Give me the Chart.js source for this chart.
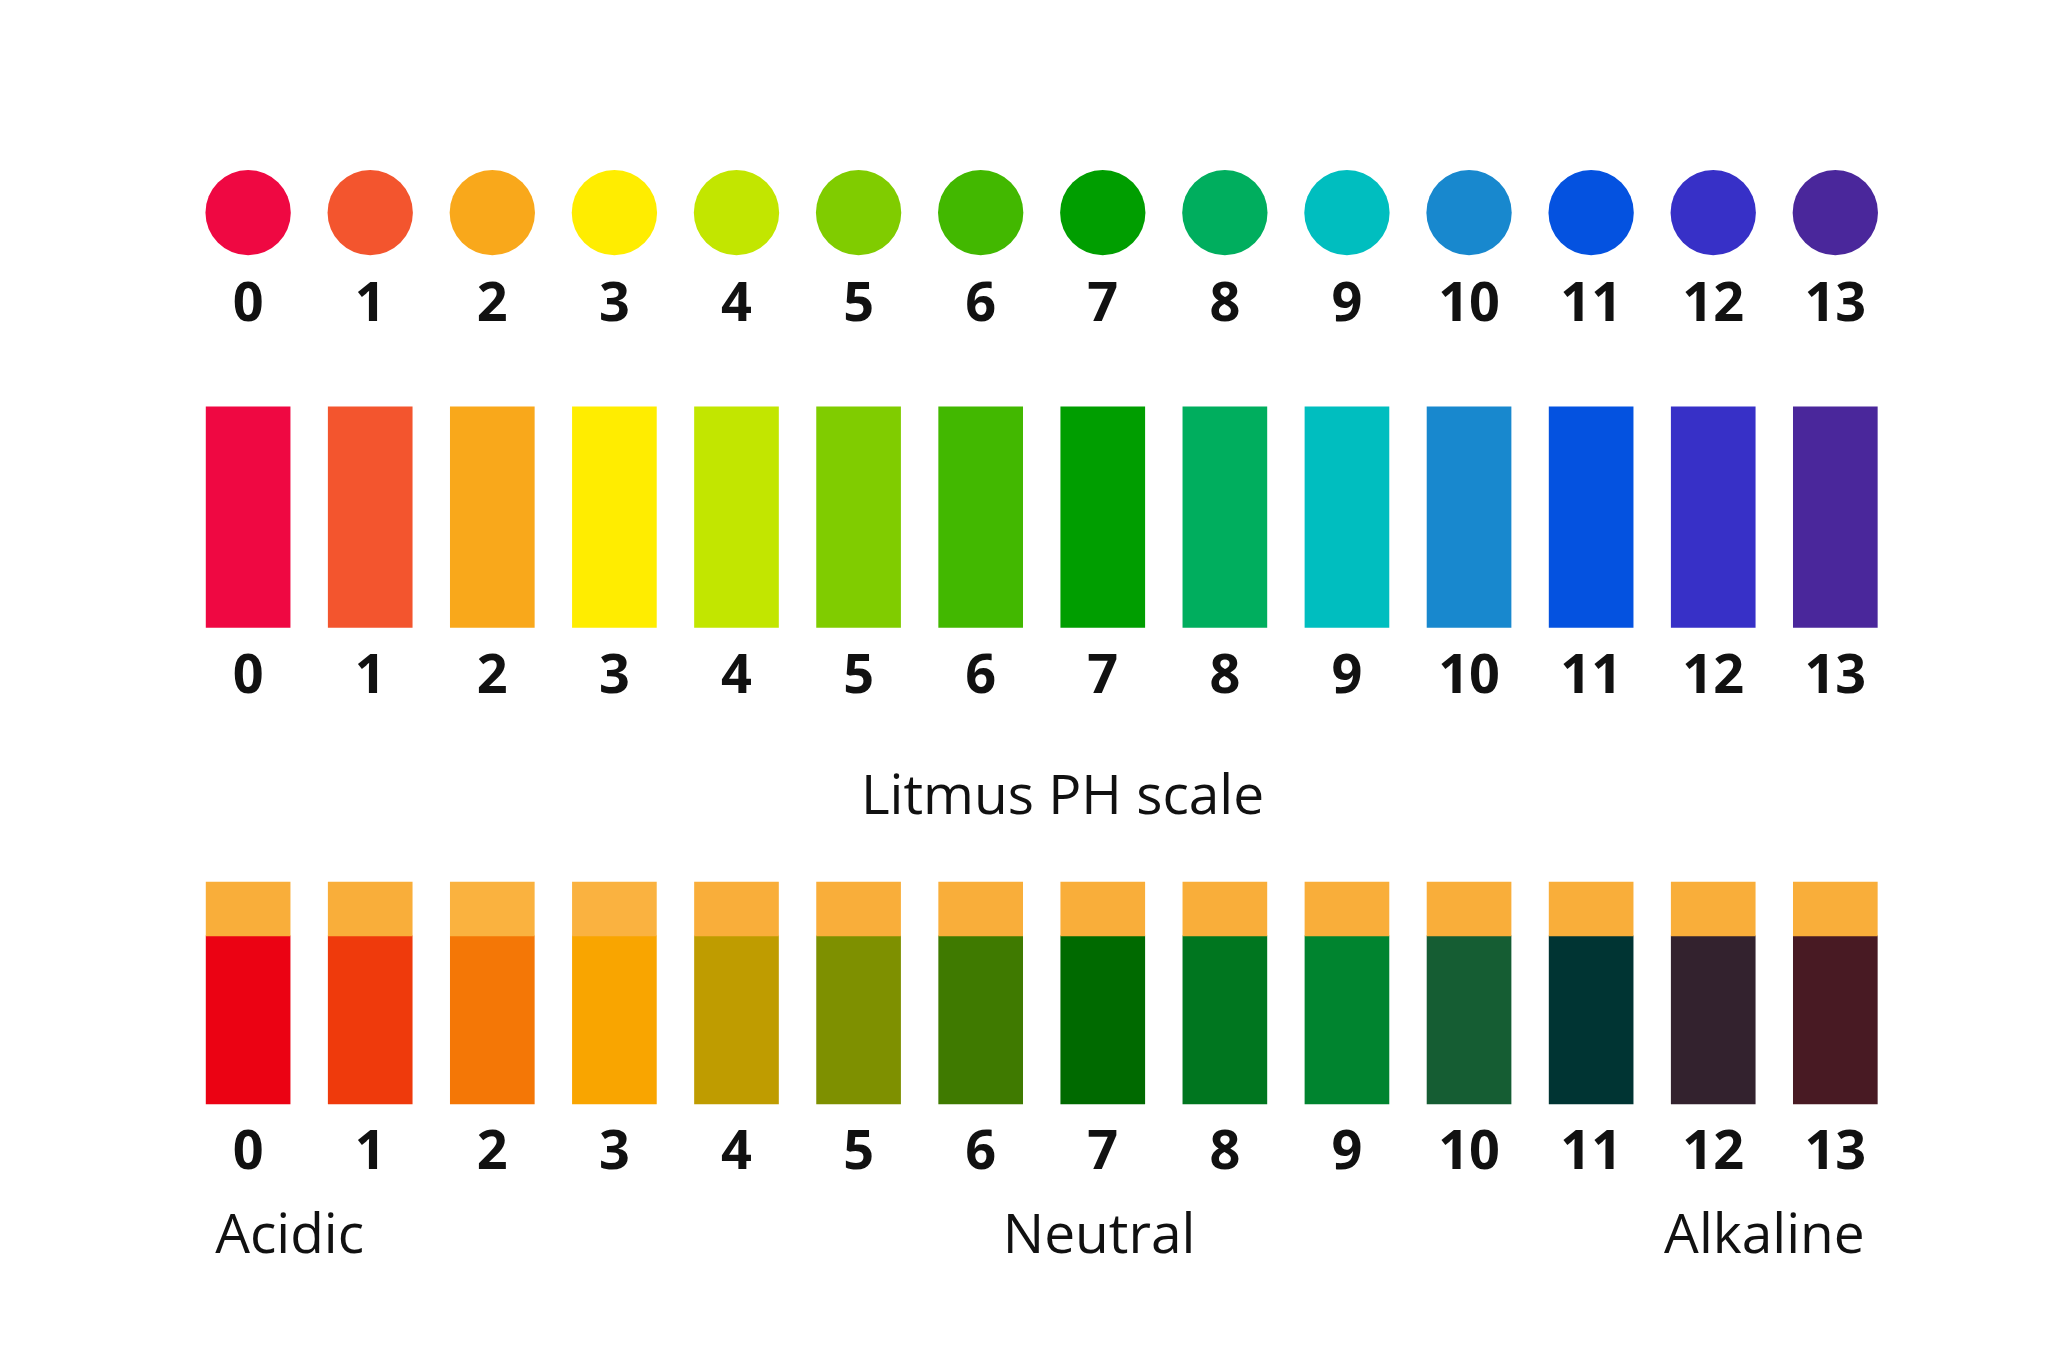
<!DOCTYPE html>
<html><head><meta charset="utf-8">
<script src="https://cdn.jsdelivr.net/npm/chart.js@4"></script>
<style>html,body{margin:0;padding:0;background:#fff}#wrap{width:2048px;height:1365px}</style>
</head><body><div id="wrap"><canvas id="c"></canvas></div>
<script>
// pH values and their colours
const phValues = [0,1,2,3,4,5,6,7,8,9,10,11,12,13];
const litmusColors = ['#EF0842','#F3552E','#F9A81B','#FFED00','#C2E600','#80CC00','#42B800','#009E00',
  '#00AE5E','#00BEBF','#1888CE','#0452E0','#3730C7','#4A279B'];
const stripTopColors = ['#F9AE3A','#F9AE3A','#FAB23F','#FAB240','#F9AE3A','#F9AE3A','#F9AE3A','#F9AE3A',
  '#F9AE3A','#F9AE3A','#F9AE3A','#F9AE3A','#F9AE3A','#F9AE3A'];
const stripColors = ['#EB0213','#EF3A0C','#F47706','#F9A500','#BF9C00','#7E9000','#3F7A00','#006A00',
  '#00761F','#00842F','#155D33','#003433','#33222E','#481A23'];
const captions = ['Acidic','Neutral','Alkaline'];
const title = 'Litmus PH scale';

// vertical layout (in reference units, 0..1040 top->bottom)
const circleY = 162, rowA = [310,478], stripTop = [672,713], stripBody = [713,841];
const S = 2048/1560;

const labelPlugin = {
  id: 'phLabels',
  afterDatasetsDraw(chart) {
    const {ctx, scales:{x, y}} = chart;
    ctx.save();
    ctx.fillStyle = '#111';
    ctx.textAlign = 'center';
    ctx.textBaseline = 'middle';
    ctx.font = '700 ' + Math.round(41*S) + 'px "Open Sans"';
    [233, 516, 879].forEach(row => {
      phValues.forEach(v => ctx.fillText(String(v), x.getPixelForValue(v), y.getPixelForValue(row)));
    });
    ctx.font = Math.round(42*S) + 'px "Open Sans"';
    ctx.fillText(title, x.getPixelForValue(6.67), y.getPixelForValue(608));
    ctx.textAlign = 'left';
    ctx.fillText(captions[0], x.getPixelForValue(-0.27), y.getPixelForValue(943));
    ctx.textAlign = 'center';
    ctx.fillText(captions[1], x.getPixelForValue(6.97), y.getPixelForValue(943));
    ctx.textAlign = 'right';
    ctx.fillText(captions[2], x.getPixelForValue(13.24), y.getPixelForValue(943));
    ctx.restore();
  }
};

const bw = Math.round(64*S);
new Chart(document.getElementById('c'), {
  type: 'bar',
  data: {
    datasets: [
      { type: 'scatter', data: phValues.map(v => ({x: v, y: circleY})), pointRadius: 32.5*S,
        backgroundColor: litmusColors, borderWidth: 0 },
      { data: phValues.map(v => ({x: v, y: rowA})), backgroundColor: litmusColors, barThickness: bw, grouped: false },
      { data: phValues.map(v => ({x: v, y: stripTop})), backgroundColor: stripTopColors, barThickness: bw, grouped: false },
      { data: phValues.map(v => ({x: v, y: stripBody})), backgroundColor: stripColors, barThickness: bw, grouped: false }
    ]
  },
  options: {
    responsive: true, maintainAspectRatio: false, animation: false,
    layout: { padding: 0, autoPadding: false },
    scales: {
      x: { type: 'linear', display: false, offset: false, min: -189/93, max: (1560-189)/93 },
      y: { display: false, min: 0, max: 1040, reverse: true }
    },
    plugins: { legend: { display: false }, tooltip: { enabled: false } }
  },
  plugins: [labelPlugin]
});
</script></body></html>
